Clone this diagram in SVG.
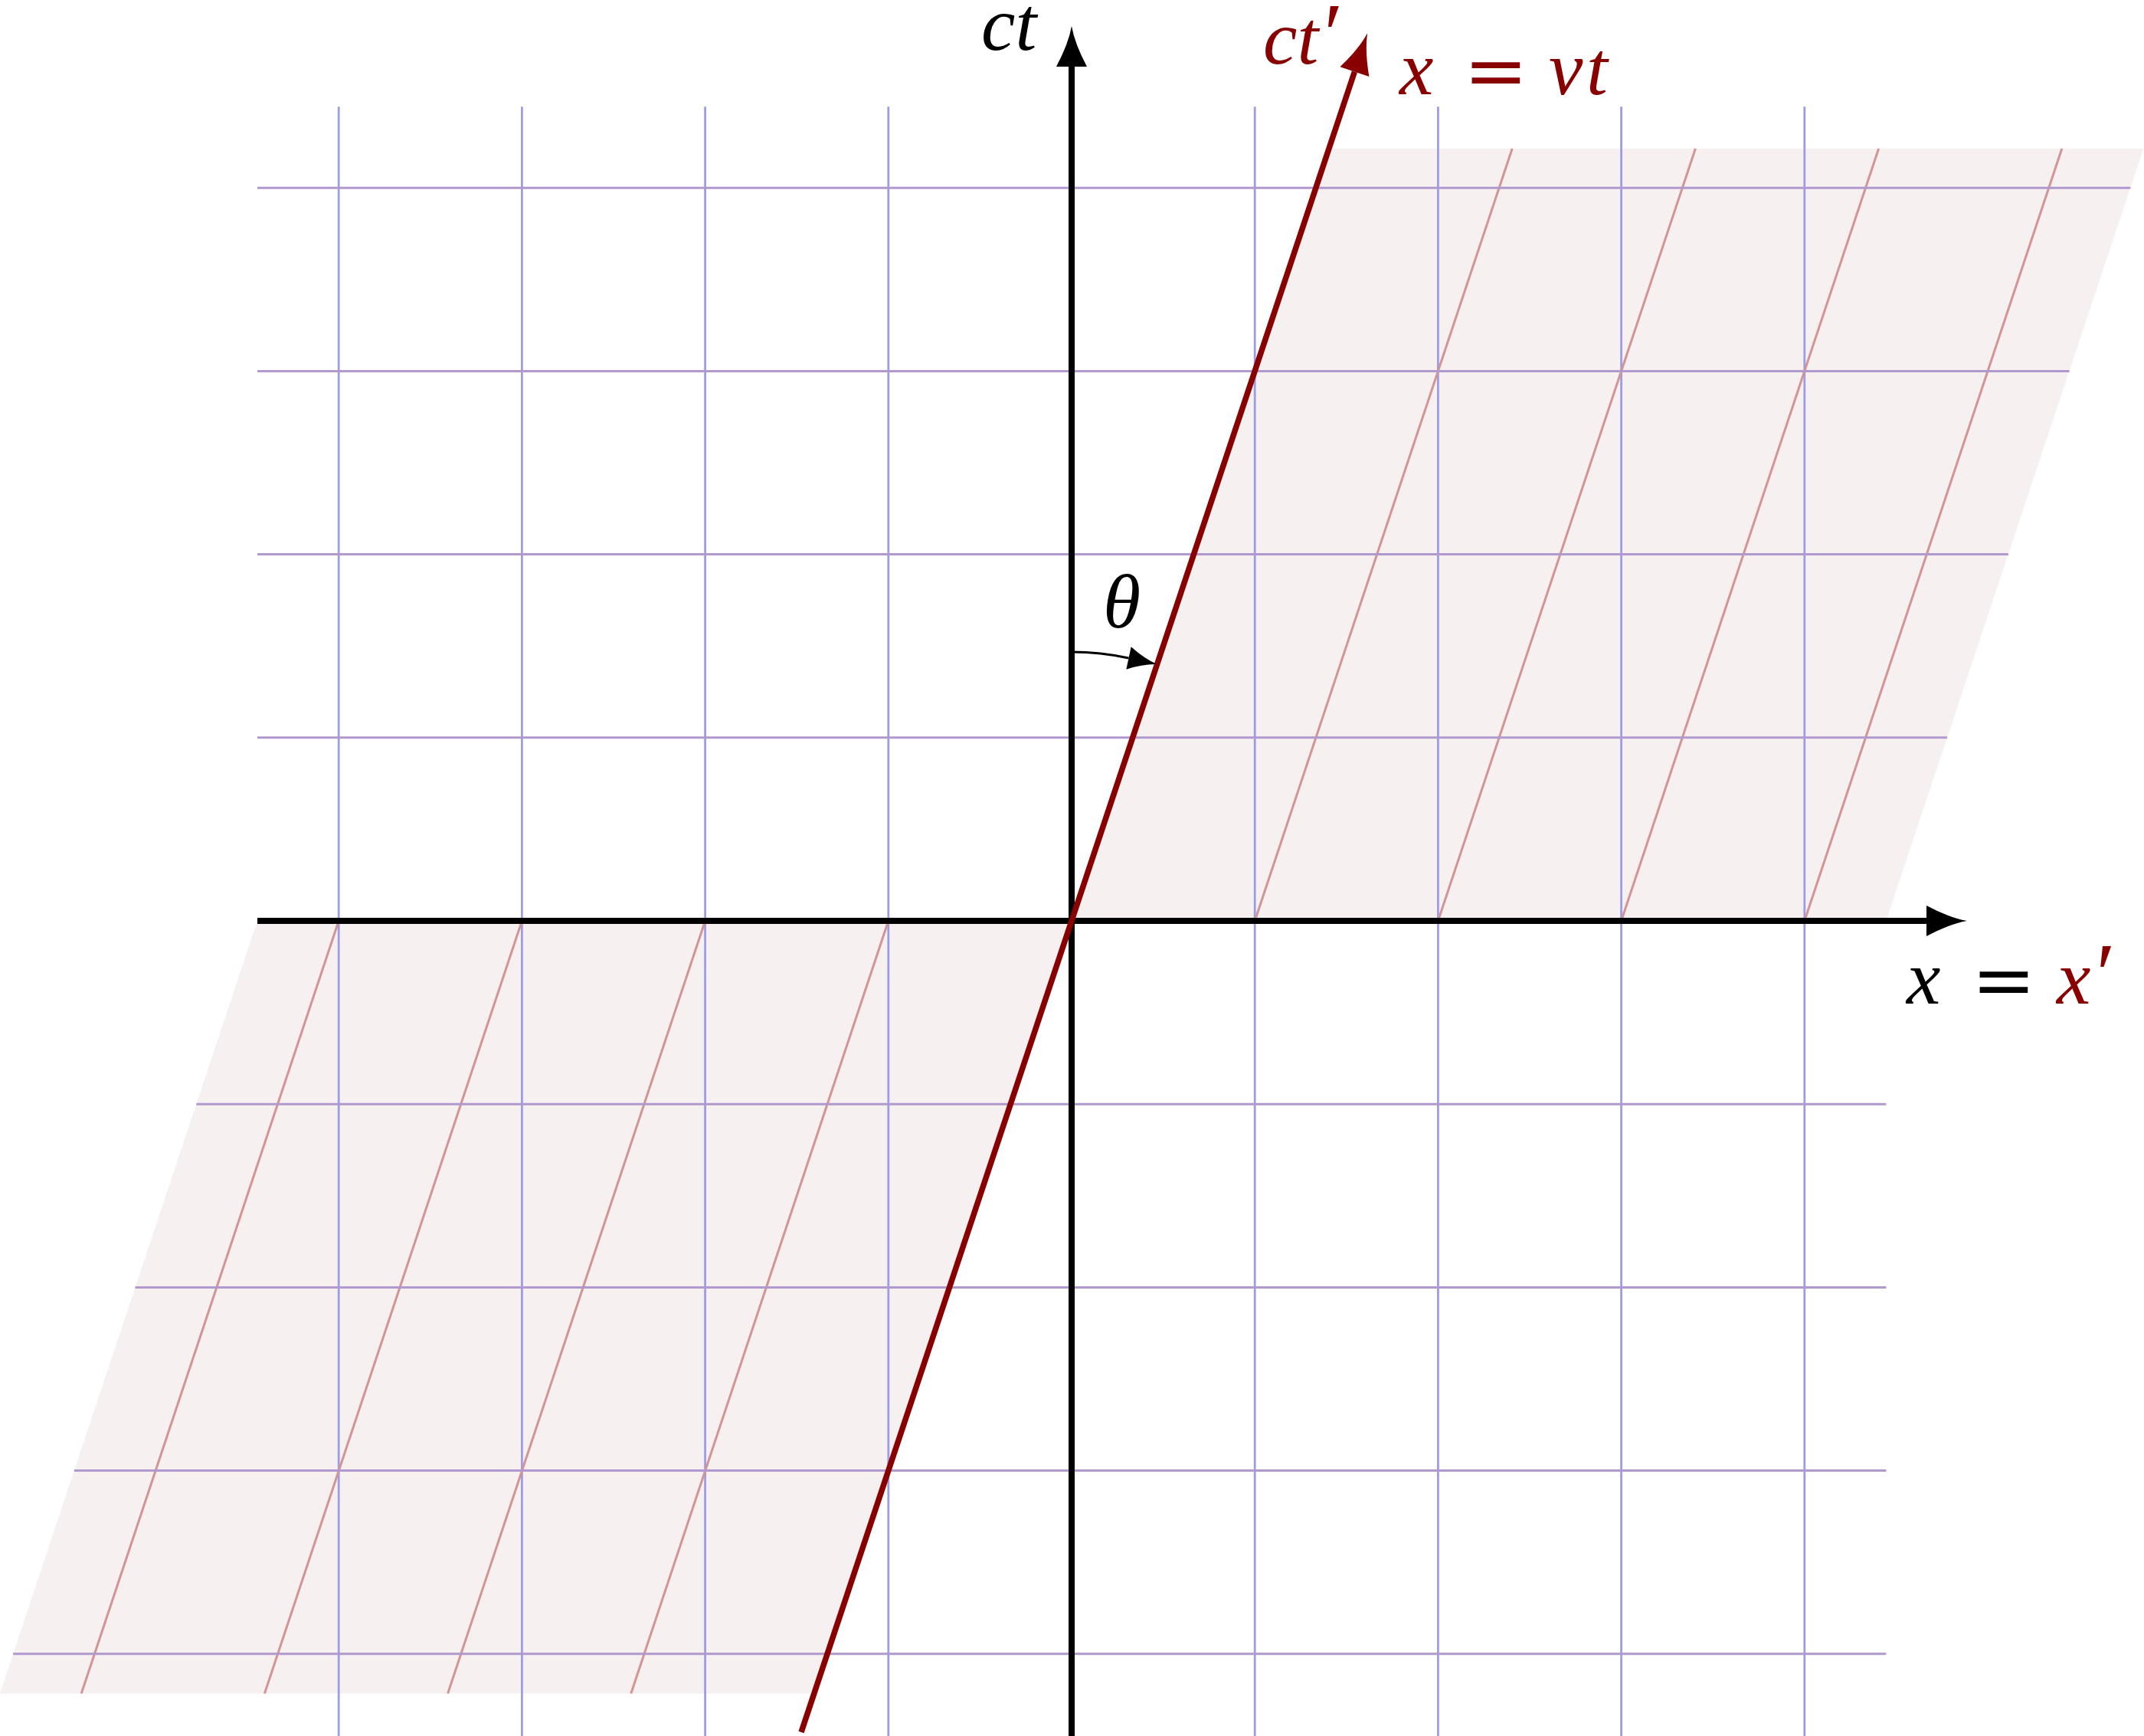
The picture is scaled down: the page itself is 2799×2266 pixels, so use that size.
<svg xmlns="http://www.w3.org/2000/svg" width="2799" height="2266" viewBox="0 0 2799 2266">
  <style>
    .shade { fill: #f6f0f0; stroke: none; }
    .vgrid { stroke: #9c9ce8; stroke-width: 2.8; fill: none; }
    .hgrid { stroke: #b198cf; stroke-width: 3; fill: none; }
    .pgrid { stroke: #d29494; stroke-width: 3; fill: none; }
    .axis { stroke: #000; stroke-width: 8; fill: none; }
    .raxis { stroke: #880000; stroke-width: 7.5; fill: none; }
    .arc { stroke: #000; stroke-width: 3.2; fill: none; }
    .m { font-family: "Liberation Serif", "DejaVu Serif", serif; font-style: italic; font-size: 100px; }
    .eq { font-family: "DejaVu Serif", "Liberation Serif", serif; font-style: normal; font-size: 100px; }
    .red { fill: #880000; }
    .blk { fill: #000; }
  </style>
  <defs>
    <marker id="arrowBlack" markerUnits="userSpaceOnUse" orient="auto" refX="0" refY="0" markerWidth="60" markerHeight="50" overflow="visible">
      <path d="M53,0 Q30,-4 0,-20 L0,20 Q30,4 53,0 Z" fill="#000"/>
    </marker>
    <marker id="arrowRed" markerUnits="userSpaceOnUse" orient="auto" refX="0" refY="0" markerWidth="60" markerHeight="50" overflow="visible">
      <path d="M53,0 Q30,-4 0,-20 L0,20 Q30,4 53,0 Z" fill="#880000"/>
    </marker>
    <marker id="arrowSmall" markerUnits="userSpaceOnUse" orient="auto" refX="0" refY="0" markerWidth="45" markerHeight="35" overflow="visible">
      <path d="M38,0 Q21,-3 0,-15 L0,15 Q21,3 38,0 Z" fill="#000"/>
    </marker>
  </defs>

  <g id="shading">
    <polygon class="shade" points="1399,1202 2462.3,1202 2798.3,194 1735,194"/>
    <polygon class="shade" points="336,1202 1399,1202 1063,2210.5 0,2210.5"/>
  </g>

  <g id="grid-vertical">
    <line class="vgrid" x1="442.2" y1="139.3" x2="442.2" y2="2266"/>
    <line class="vgrid" x1="681.4" y1="139.3" x2="681.4" y2="2266"/>
    <line class="vgrid" x1="920.6" y1="139.3" x2="920.6" y2="2266"/>
    <line class="vgrid" x1="1159.8" y1="139.3" x2="1159.8" y2="2266"/>
    <line class="vgrid" x1="1638.2" y1="139.3" x2="1638.2" y2="2266"/>
    <line class="vgrid" x1="1877.4" y1="139.3" x2="1877.4" y2="2266"/>
    <line class="vgrid" x1="2116.6" y1="139.3" x2="2116.6" y2="2266"/>
    <line class="vgrid" x1="2355.8" y1="139.3" x2="2355.8" y2="2266"/>
  </g>

  <g id="grid-primed">
    <line class="pgrid" x1="1638.2" y1="1202" x2="1974.2" y2="194"/>
    <line class="pgrid" x1="1877.4" y1="1202" x2="2213.4" y2="194"/>
    <line class="pgrid" x1="2116.6" y1="1202" x2="2452.6" y2="194"/>
    <line class="pgrid" x1="2355.8" y1="1202" x2="2691.8" y2="194"/>
    <line class="pgrid" x1="442.2" y1="1202" x2="106.2" y2="2210.5"/>
    <line class="pgrid" x1="681.4" y1="1202" x2="345.4" y2="2210.5"/>
    <line class="pgrid" x1="920.6" y1="1202" x2="584.6" y2="2210.5"/>
    <line class="pgrid" x1="1159.8" y1="1202" x2="823.8" y2="2210.5"/>
  </g>

  <g id="grid-horizontal">
    <line class="hgrid" x1="336" y1="245.2" x2="2781.2" y2="245.2"/>
    <line class="hgrid" x1="336" y1="484.4" x2="2701.5" y2="484.4"/>
    <line class="hgrid" x1="336" y1="723.6" x2="2621.8" y2="723.6"/>
    <line class="hgrid" x1="336" y1="962.8" x2="2542" y2="962.8"/>
    <line class="hgrid" x1="256.3" y1="1441.2" x2="2462.3" y2="1441.2"/>
    <line class="hgrid" x1="176.5" y1="1680.4" x2="2462.3" y2="1680.4"/>
    <line class="hgrid" x1="96.8" y1="1919.6" x2="2462.3" y2="1919.6"/>
    <line class="hgrid" x1="17.1" y1="2158.8" x2="2462.3" y2="2158.8"/>
  </g>

  <g id="connectors">
    <line id="x-axis" class="axis" x1="336" y1="1202" x2="2515" y2="1202" marker-end="url(#arrowBlack)"/>
    <line id="ct-axis" class="axis" x1="1399" y1="2266" x2="1399" y2="87" marker-end="url(#arrowBlack)"/>
    <line id="ctp-axis" class="raxis" x1="1046" y1="2261" x2="1768.4" y2="93.6" marker-end="url(#arrowRed)"/>
    <path id="theta-arc" class="arc" d="M1399,851 A351,351 0 0 1 1473.5,859" marker-end="url(#arrowSmall)"/>
  </g>

  <g id="label-ct">
    <text class="m blk" x="1281" y="65">ct</text>
  </g>
  <g id="label-ctprime">
    <text class="m red" x="1649" y="83">ct<tspan font-size="115">′</tspan></text>
  </g>
  <g id="label-x-vt">
    <text class="m red" x="1827" y="123">x</text>
    <text class="eq red" x="1911" y="126">=</text>
    <text class="m red" x="2022" y="123">v</text>
    <text class="m red" x="2071" y="123">t</text>
  </g>
  <g id="label-x-xprime">
    <text class="m blk" x="2489" y="1310">x</text>
    <text class="eq blk" x="2574" y="1313">=</text>
    <text class="m red" x="2685" y="1310">x<tspan font-size="115">′</tspan></text>
  </g>
  <g id="label-theta">
    <text class="m blk" x="1440" y="819">θ</text>
  </g>
</svg>
